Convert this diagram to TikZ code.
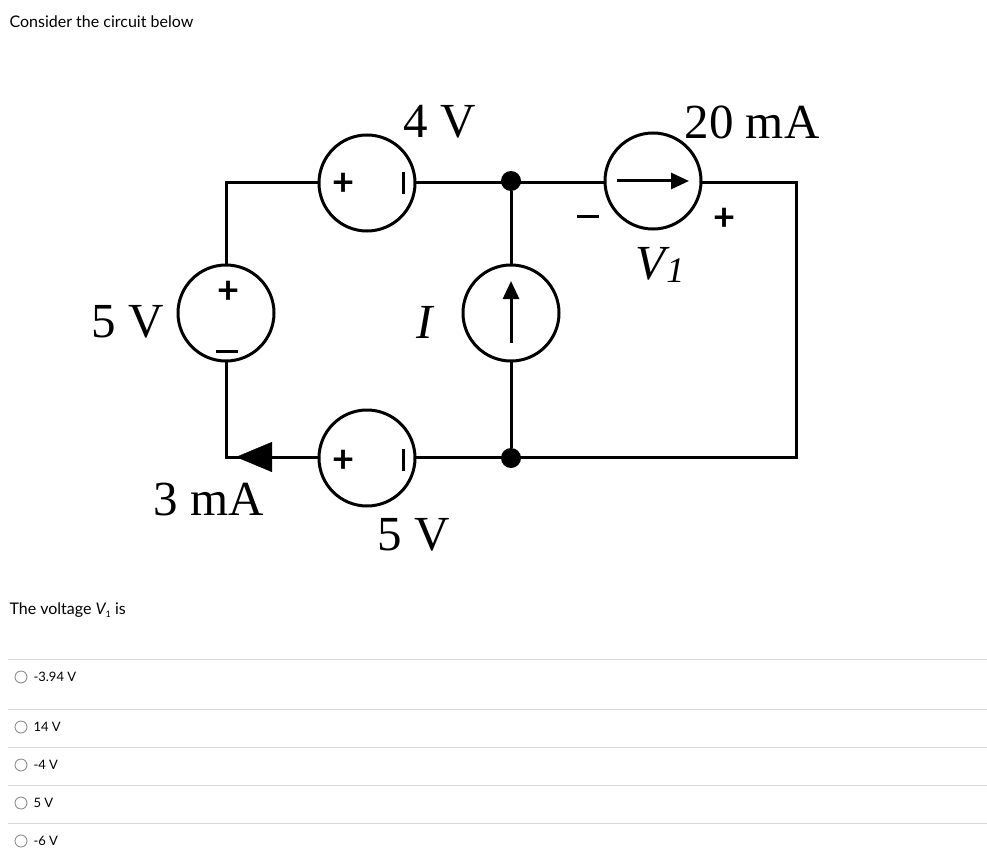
\documentclass[tikz,border=0pt]{standalone}
\usepackage{fontspec}
\setmainfont{Lato}
\newfontfamily\circfont{Liberation Serif}
\usetikzlibrary{arrows.meta}
\begin{document}
\begin{tikzpicture}[x=1pt,y=-1pt,
  wire/.style={line width=3pt},
  src/.style={circle,draw,line width=3pt,minimum size=96pt,inner sep=0pt,fill=white},
  lbl/.style={font=\circfont\fontsize{49}{49}\selectfont},
  sgn/.style={font=\fontsize{38}{38}\selectfont\bfseries},
  dot/.style={circle,fill,inner sep=0pt,minimum size=20pt},
  txt/.style={anchor=west,font=\fontsize{16}{19}\selectfont},
  opt/.style={circle,draw=gray,line width=0.8pt,minimum size=12pt,inner sep=0pt}]
\useasboundingbox (0,0) rectangle (987,853);
\coordinate (tl) at (226,183); \coordinate (tr) at (796,183);
\coordinate (bl) at (226,457); \coordinate (br) at (796,457);
\node[dot] (n1) at (511,181) {};
\node[dot] (n2) at (511,458) {};
\draw[wire] (tl) -- (tr) -- (br) -- (bl) -- cycle;
\draw[wire] (n1) -- (n2);
\node[src] (v5) at (226,313) {};
\node[src] (v4) at (367,183) {};
\node[src] (v5b) at (367,458) {};
\node[src] (cI) at (511,313) {};
\node[src] (c20) at (653,181) {};
\draw[wire,-{Triangle[length=18pt,width=16pt]}] ([yshift=-30pt]cI.center) -- ([yshift=32pt]cI.center);
\draw[wire,-{Triangle[length=18pt,width=16pt]}] ([xshift=-36pt]c20.center) -- ([xshift=36pt]c20.center);
\coordinate (a0) at (275,457); \coordinate (a1) at (236,457);
\draw[-{Triangle[length=36pt,width=30pt]}] (a0) -- (a1);
\node[sgn] (p1) at (229,292) {+};
\draw[wire] (216,351) -- (238,351);
\node[sgn] (p2) at (344,184) {+};
\draw[wire] (403,172) -- (403,194);
\node[sgn] (p3) at (344,461) {+};
\draw[wire] (403,449) -- (403,471);
\draw[wire] (577,216) -- (599,216);
\node[sgn] (p4) at (725,219) {+};
\node[lbl] (l1) at (440,122) {4 V};
\node[lbl] (l2) at (752,122) {20 mA};
\node[lbl] (l3) at (660,265) {\itshape V\kern1pt\raisebox{-3pt}{\fontsize{36}{36}\selectfont 1}};
\node[lbl] (l4) at (128,322) {5 V};
\node[lbl] (l5) at (425,322) {\itshape I};
\node[lbl] (l6) at (209,500) {3 mA};
\node[lbl] (l7) at (414,535) {5 V};
\node[txt] (t1) at (6,22) {Consider the circuit below};
\node[txt] (t2) at (6,610) {The voltage {\itshape V}\raisebox{-3pt}{\small 1} is};
\foreach \y in {659,709,747,785,823} \draw[gray!30,line width=1pt] (8,\y) -- (987,\y);
\foreach \y/\t in {677/-3.94 V,727/14 V,765/-4 V,803/5 V,841/-6 V}{
  \node[opt] at (21,\y) {};
  \node[txt,font=\fontsize{13}{15}\selectfont] at (30,\y) {\t};}
\end{tikzpicture}
\end{document}
